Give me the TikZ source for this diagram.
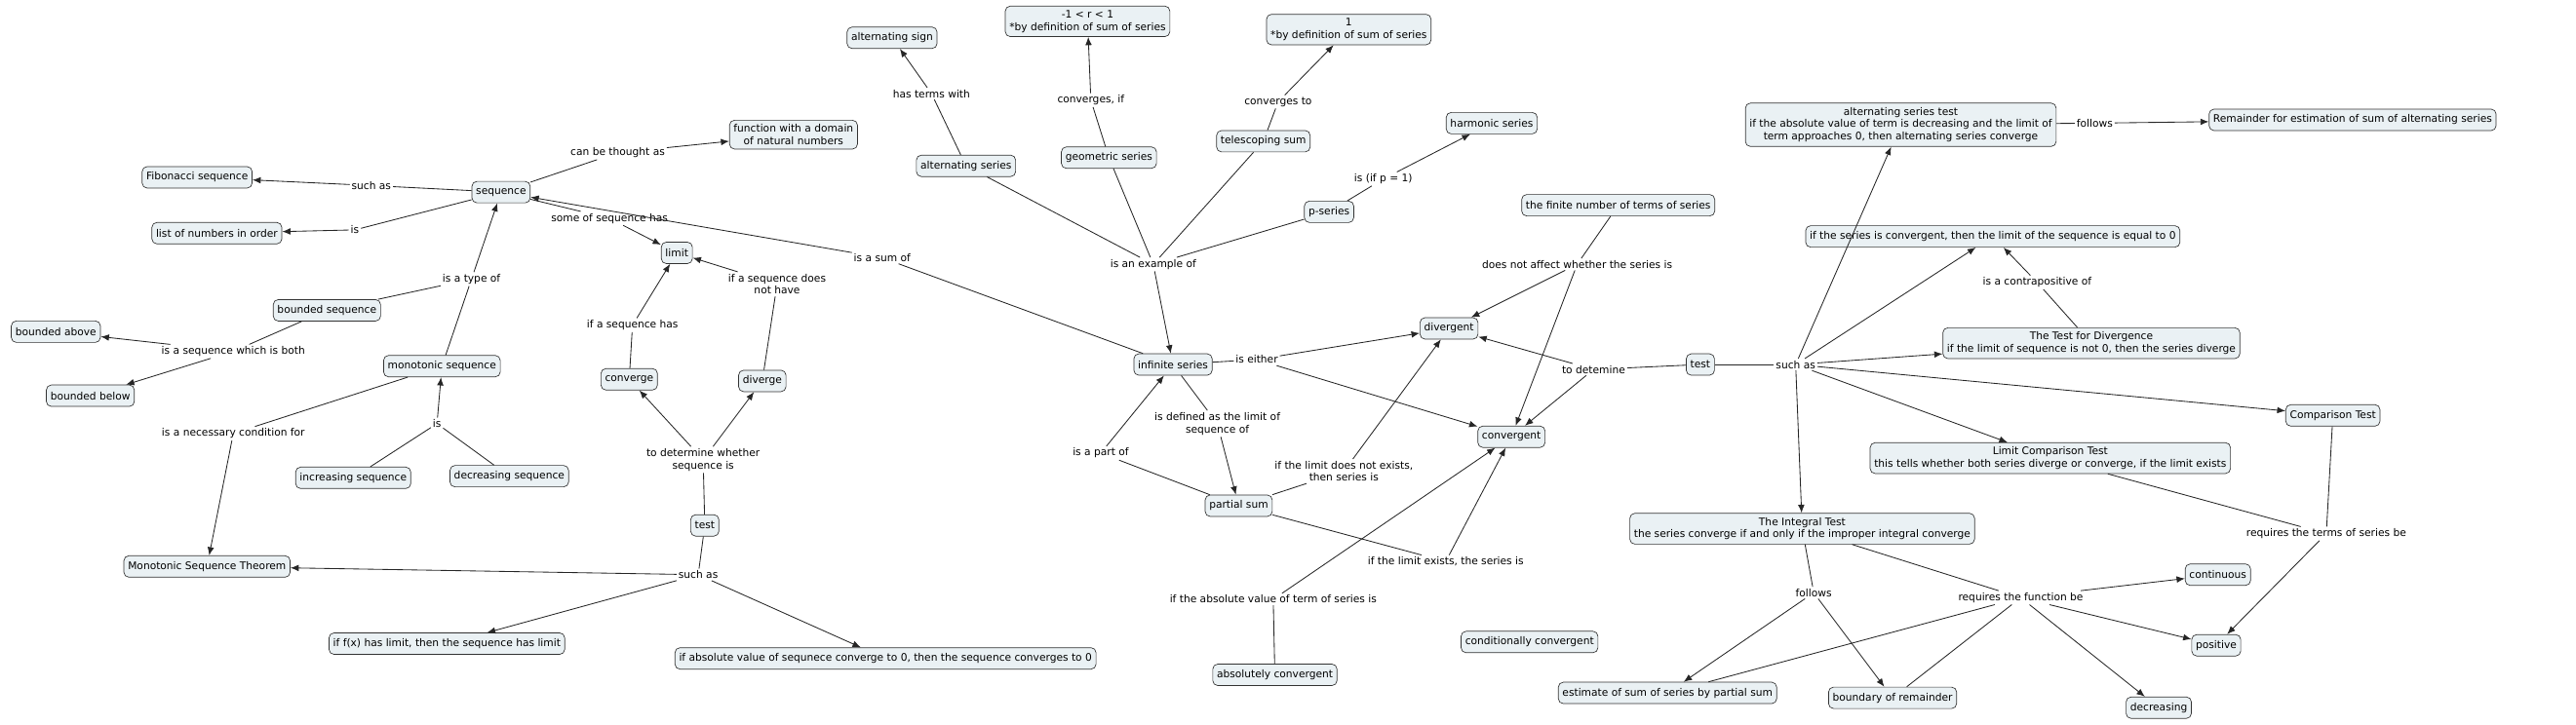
\documentclass[tikz,border=0pt]{standalone}
\usepackage{fontspec}
\setmainfont{DejaVu Sans}
\usepackage{tikz}
\usetikzlibrary{arrows,arrows.meta,positioning}
\definecolor{conceptfill}{RGB}{234,241,244}
\tikzset{concept/.style={draw=black!80,fill=conceptfill,rounded corners=3pt,align=center,
        inner sep=2.5pt,minimum height=13pt,font=\fontsize{6.3}{7.6}\selectfont},
    linkword/.style={fill=white,inner sep=1pt,align=center,font=\fontsize{6.3}{7.6}\selectfont},
    conn/.style={draw=black!85,line width=0.5pt},
    arr/.style={conn,-{Latex[length=5pt,width=4pt]}}}

\begin{document}
\begin{tikzpicture}[x=0.035cm,y=-0.035cm]
\useasboundingbox (0,0) rectangle (1568,441);

% concepts
\node (altsign) [concept] at (543,23) {alternating sign};
\node (rbound) [concept] at (662,13) {-1 < r < 1\\*by definition of sum of series};
\node (one) [concept] at (821,18) {1\\*by definition of sum of series};
\node (harmonic) [concept] at (908,75) {harmonic series};
\node (func) [concept] at (483,82) {function with a domain\\of natural numbers};
\node (fib) [concept] at (120,108) {Fibonacci sequence};
\node (seq) [concept] at (305,117) {sequence};
\node (altser) [concept] at (588,101) {alternating series};
\node (geo) [concept] at (675,96) {geometric series};
\node (tele) [concept] at (769,86) {telescoping sum};
\node (pser) [concept] at (809,129) {p-series};
\node (list) [concept] at (132,142) {list of numbers in order};
\node (limit) [concept] at (412,154) {limit};
\node (finite) [concept] at (985,125) {the finite number of terms of series};
\node (bseq) [concept] at (199,189) {bounded sequence};
\node (babove) [concept] at (34,202) {bounded above};
\node (mseq) [concept] at (269,223) {monotonic sequence};
\node (bbelow) [concept] at (55,241) {bounded below};
\node (conv) [concept] at (383,231) {converge};
\node (div) [concept] at (464,232) {diverge};
\node (infser) [concept] at (714,222) {infinite series};
\node (divergent) [concept] at (882,200) {divergent};
\node (convergent) [concept] at (920,266) {convergent};
\node (incseq) [concept] at (215,291) {increasing sequence};
\node (decseq) [concept] at (310,290) {decreasing sequence};
\node (psum) [concept] at (754,308) {partial sum};
\node (testL) [concept] at (429,320) {test};
\node (mst) [concept] at (126,345) {Monotonic Sequence Theorem};
\node (fx) [concept] at (272,392) {if f(x) has limit, then the sequence has limit};
\node (absz) [concept] at (539,401) {if absolute value of sequnece converge to 0, then the sequence converges to 0};
\node (absconv) [concept] at (776,411) {absolutely convergent};
\node (condconv) [concept] at (931,391) {conditionally convergent};
\node (testR) [concept] at (1035,222) {test};
\node (ast) [concept] at (1157,76) {alternating series test\\if the absolute value of term is decreasing and the limit of\\term approaches 0,  then alternating series converge};
\node (rem) [concept] at (1432,73) {Remainder for estimation of sum of alternating series};
\node (ifconv) [concept] at (1213,144) {if the series is convergent, then the limit of the sequence is equal to 0};
\node (tfd) [concept] at (1273,209) {The Test for Divergence\\if the limit of sequence is not 0, then the series diverge};
\node (comp) [concept] at (1420,253) {Comparison Test};
\node (lct) [concept] at (1248,279) {Limit Comparison Test\\this tells whether both series diverge or converge, if the limit exists};
\node (integ) [concept] at (1097,322) {The Integral Test\\the series converge if and only if the improper integral converge};
\node (cont) [concept] at (1350,350) {continuous};
\node (pos) [concept] at (1349,393) {positive};
\node (est) [concept] at (1015,422) {estimate of sum of series by partial sum};
\node (bndrem) [concept] at (1152,425) {boundary of remainder};
\node (decr) [concept] at (1314,431) {decreasing};

% linking words
\node (lhas) [linkword] at (567,57) {has terms with};
\node (lconvif) [linkword] at (664,61) {converges, if};
\node (lconvto) [linkword] at (778,62) {converges to};
\node (lisp) [linkword] at (842,109) {is (if p = 1)};
\node (lthought) [linkword] at (376,93) {can be thought as};
\node (lsuch1) [linkword] at (226,113) {such as};
\node (lis1) [linkword] at (216,140) {is};
\node (lsome) [linkword] at (371,133) {some of sequence has};
\node (lsum) [linkword] at (537,157) {is a sum of};
\node (ltype) [linkword] at (287,170) {is a type of};
\node (lboth) [linkword] at (142,214) {is a sequence which is both};
\node (lnec) [linkword] at (142,264) {is a necessary condition for};
\node (lis2) [linkword] at (266,258) {is};
\node (lifhas) [linkword] at (385,198) {if a sequence has};
\node (lifnot) [linkword] at (473,173) {if a sequence does\\not have};
\node (lwhether) [linkword] at (428,280) {to determine whether\\sequence is};
\node (lsuch2) [linkword] at (425,350) {such as};
\node (lexample) [linkword] at (702,161) {is an example of};
\node (leither) [linkword] at (765,219) {is either};
\node (ldefined) [linkword] at (741,258) {is defined as the limit of\\sequence of};
\node (lpart) [linkword] at (670,276) {is a part of};
\node (lnotex) [linkword] at (818,287) {if the limit does not exists,\\then series is};
\node (lexists) [linkword] at (880,342) {if the limit exists, the series is};
\node (labs) [linkword] at (775,365) {if the absolute value of term of series is};
\node (laffect) [linkword] at (960,161) {does not affect whether the series is};
\node (ldetem) [linkword] at (970,225) {to detemine};
\node (lsuch3) [linkword] at (1093,222) {such as};
\node (lfollow1) [linkword] at (1275,75) {follows};
\node (lcontra) [linkword] at (1240,172) {is a contrapositive of};
\node (lterms) [linkword] at (1416,325) {requires the terms of series be};
\node (lfollow2) [linkword] at (1104,361) {follows};
\node (lfunc) [linkword] at (1230,364) {requires the function be};

% plain segments
\foreach \a/\b in {altser/lhas,geo/lconvif,tele/lconvto,pser/lisp,seq/lthought,seq/lsuch1,seq/lis1,seq/lsome,
    infser/lsum,bseq/ltype,mseq/ltype,bseq/lboth,mseq/lnec,incseq/lis2,decseq/lis2,conv/lifhas,div/lifnot,
    testL/lwhether,testL/lsuch2,altser/lexample,geo/lexample,tele/lexample,pser/lexample,infser/leither,
    infser/ldefined,psum/lpart,psum/lnotex,psum/lexists,absconv/labs,finite/laffect,testR/ldetem,testR/lsuch3,
    ast/lfollow1,tfd/lcontra,comp/lterms,lct/lterms,integ/lfollow2,integ/lfunc,est/lfunc,bndrem/lfunc}
    \draw [conn] (\a) -- (\b);

% arrows
\foreach \a/\b in {lhas/altsign,lconvif/rbound,lconvto/one,lisp/harmonic,lthought/func,lsuch1/fib,lis1/list,
    lsome/limit,lsum/seq,ltype/seq,lboth/babove,lboth/bbelow,lnec/mst,lis2/mseq,lifhas/limit,lifnot/limit,
    lwhether/conv,lwhether/div,lsuch2/mst,lsuch2/fx,lsuch2/absz,lexample/infser,leither/divergent,
    leither/convergent,ldefined/psum,lpart/infser,lnotex/divergent,lexists/convergent,labs/convergent,
    laffect/divergent,laffect/convergent,ldetem/divergent,ldetem/convergent,lsuch3/ast,lsuch3/ifconv,
    lsuch3/tfd,lsuch3/comp,lsuch3/lct,lsuch3/integ,lfollow1/rem,lcontra/ifconv,lterms/pos,lfollow2/est,
    lfollow2/bndrem,lfunc/cont,lfunc/pos,lfunc/decr}
    \draw [arr] (\a) -- (\b);

\end{tikzpicture}
\end{document}
